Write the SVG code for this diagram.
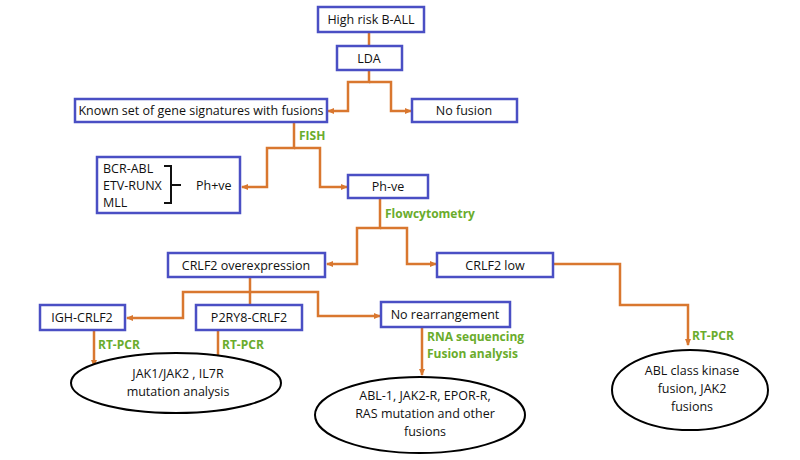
<svg xmlns="http://www.w3.org/2000/svg" width="800" height="460" viewBox="0 0 800 460">
<style>
.b{fill:#fff;stroke:#4a4fc4;stroke-width:2.5}
.e{fill:#fff;stroke:#000;stroke-width:2}
.c{fill:none;stroke:#d9772f;stroke-width:2.5}
text{font-family:"Open Sans","Liberation Sans",sans-serif;font-size:12.5px;fill:#111}
.t{text-anchor:middle}
.g{fill:#6aac2c;font-weight:bold;font-size:12px}
</style>
<defs><marker id="a" markerWidth="8" markerHeight="8" refX="6" refY="4" orient="auto" markerUnits="userSpaceOnUse"><path d="M0,1 L7,4 L0,7 z" fill="#d9772f"/></marker></defs>
<rect width="800" height="460" fill="#fff"/>
<g id="connectors">
<path class="c" d="M369,32V46"/>
<path class="c" d="M369,70V82H348V111H328" marker-end="url(#a)"/>
<path class="c" d="M369,82H391V111H411" marker-end="url(#a)"/>
<path class="c" d="M294,122V148H267V187H242" marker-end="url(#a)"/>
<path class="c" d="M294,148H320V187H347" marker-end="url(#a)"/>
<path class="c" d="M380,198V228H357V264H327" marker-end="url(#a)"/>
<path class="c" d="M380,228H407V264H436" marker-end="url(#a)"/>
<path class="c" d="M553,264H620V305H688V345" marker-end="url(#a)"/>
<path class="c" d="M250,277V305"/>
<path class="c" d="M250,292H183V318H127" marker-end="url(#a)"/>
<path class="c" d="M250,292H318V316H380" marker-end="url(#a)"/>
<path class="c" d="M94,330V366" marker-end="url(#a)"/>
<path class="c" d="M218,330V366" marker-end="url(#a)"/>
<path class="c" d="M422,327V375" marker-end="url(#a)"/>
<text class="g" x="299" y="140">FISH</text>
<text class="g" x="385" y="218">Flowcytometry</text>
<text class="g" x="98" y="349">RT-PCR</text>
<text class="g" x="222" y="349">RT-PCR</text>
<text class="g" x="427" y="341">RNA sequencing</text>
<text class="g" x="427" y="358">Fusion analysis</text>
<text class="g" x="692" y="340">RT-PCR</text>
</g>
<g id="n1"><rect class="b" x="318" y="7" width="106" height="25"/><text class="t" x="371" y="24">High risk B-ALL</text></g>
<g id="n2"><rect class="b" x="337" y="46" width="65" height="24"/><text class="t" x="369" y="63">LDA</text></g>
<g id="n3"><rect class="b" x="75" y="99" width="252" height="23"/><text class="t" x="201" y="115">Known set of gene signatures with fusions</text></g>
<g id="n4"><rect class="b" x="412" y="99" width="105" height="23"/><text class="t" x="464" y="115">No fusion</text></g>
<g id="n5"><rect class="b" x="97" y="157" width="143" height="56"/>
<text x="103" y="173">BCR-ABL</text><text x="103" y="190">ETV-RUNX</text><text x="103" y="207">MLL</text>
<path d="M164,166H171V203H164M171,185H181" fill="none" stroke="#111" stroke-width="2"/>
<text x="196" y="190">Ph+ve</text></g>
<g id="n6"><rect class="b" x="348" y="175" width="80" height="23"/><text class="t" x="388" y="191">Ph-ve</text></g>
<g id="n7"><rect class="b" x="168" y="253" width="157" height="24"/><text class="t" x="246" y="270">CRLF2 overexpression</text></g>
<g id="n8"><rect class="b" x="437" y="253" width="116" height="24"/><text class="t" x="495" y="270">CRLF2 low</text></g>
<g id="n9"><rect class="b" x="40" y="305" width="85" height="25"/><text class="t" x="82" y="322">IGH-CRLF2</text></g>
<g id="n10"><rect class="b" x="196" y="305" width="106" height="25"/><text class="t" x="249" y="322">P2RY8-CRLF2</text></g>
<g id="n11"><rect class="b" x="381" y="302" width="129" height="25"/><text class="t" x="445" y="319">No rearrangement</text></g>
<g id="n12"><ellipse class="e" cx="176" cy="383" rx="105" ry="30"/><text class="t" x="178" y="378">JAK1/JAK2 , IL7R</text><text class="t" x="178" y="396">mutation analysis</text></g>
<g id="n13"><ellipse class="e" cx="420" cy="415" rx="105" ry="38"/><text class="t" x="425" y="400">ABL-1, JAK2-R, EPOR-R,</text><text class="t" x="425" y="418">RAS mutation and other</text><text class="t" x="425" y="436">fusions</text></g>
<g id="n14"><ellipse class="e" cx="690" cy="390" rx="78" ry="40"/><text class="t" x="692" y="375">ABL class kinase</text><text class="t" x="692" y="393">fusion, JAK2</text><text class="t" x="692" y="411">fusions</text></g>
</svg>
